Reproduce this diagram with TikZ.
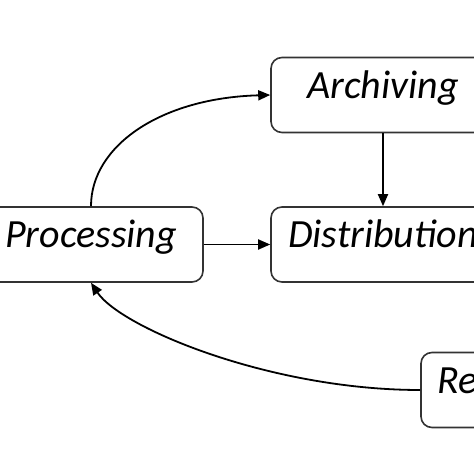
\documentclass[tikz,border=0pt]{standalone}
\usepackage{fontspec}
\setmainfont{Carlito}
\usetikzlibrary{arrows.meta}
\begin{document}
\begin{tikzpicture}[x=1pt,y=1pt,
  box/.style={draw=black!80,line width=1.6pt,rounded corners=11pt,fill=white,
    minimum width=224pt,minimum height=75pt,inner sep=0pt,
    font=\fontsize{40}{44}\selectfont\itshape,text height=0.64em,text depth=0pt},
  link/.style={line width=1.8pt,-{Triangle[length=12pt,width=10pt]}}]
\useasboundingbox (0,0) rectangle (474,474);
\clip (0,0) rectangle (474,474);
\fill[white] (0,0) rectangle (474,474);
\node[box] (proc) at (91,229.5) {Processing};
\node[box] (arch) at (383,379) {Archiving};
\node[box] (dist) at (383,229.5) {Distribution};
\node[box,inner xsep=16pt,text width=192pt,align=left] (rep) at (533,84) {Reprocessing};
\draw[link] (proc.east) -- (dist.west);
\draw[link] (arch.south) -- (dist.north);
\draw[link] (proc.north) .. controls +(0,60) and +(-110,-3) .. (arch.west);
\draw[link] (rep.west) .. controls +(-150,0) and +(30,-45) .. (proc.south);
\end{tikzpicture}
\end{document}
